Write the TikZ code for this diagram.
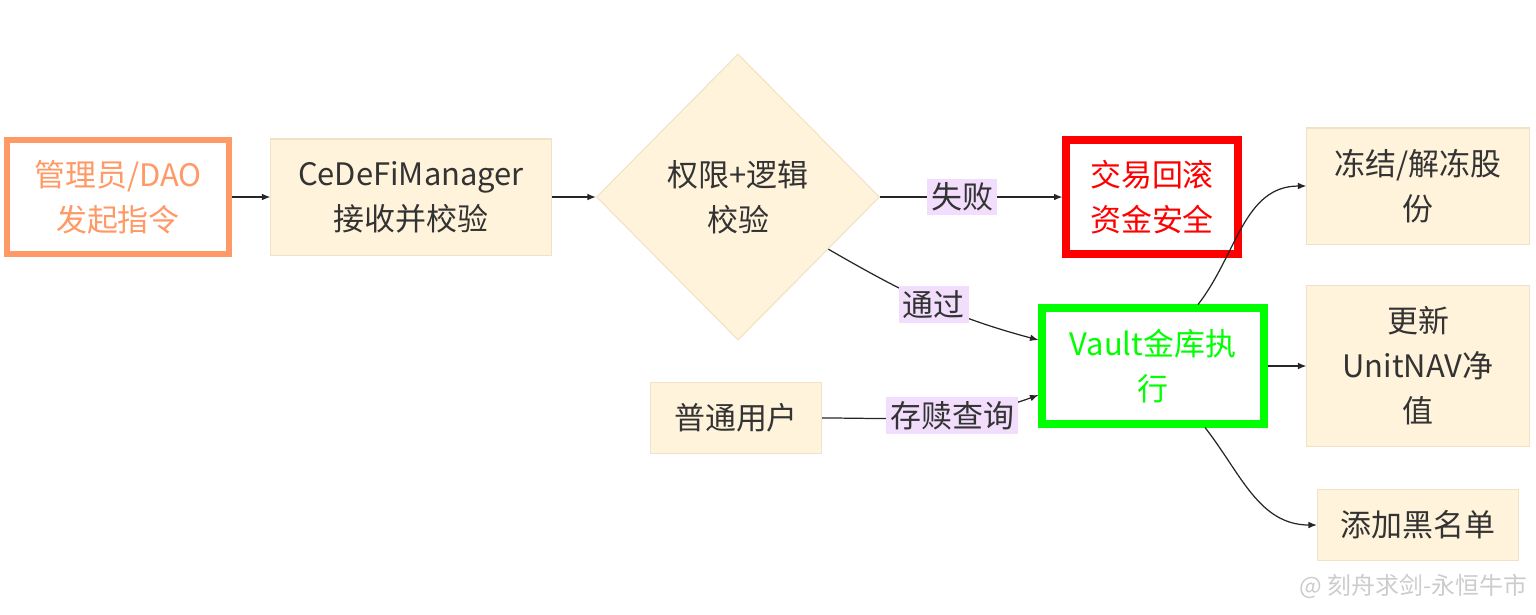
\documentclass[tikz,border=0pt]{standalone}
\usepackage{fontspec}
\setmainfont{Noto Sans CJK SC}
\usepackage{tikz}
\usetikzlibrary{arrows.meta,positioning,shapes.geometric}
\definecolor{boxcream}{RGB}{255,243,220}
\definecolor{boxedge}{RGB}{242,226,196}
\definecolor{adminorange}{RGB}{255,153,102}
\definecolor{failred}{RGB}{255,0,0}
\definecolor{passgreen}{RGB}{0,255,0}
\definecolor{lblpurple}{RGB}{242,222,252}
\definecolor{txtdark}{RGB}{51,51,51}

\begin{document}
\begin{tikzpicture}[x=0.01cm,y=0.01cm,
  every node/.style={font=\fontsize{8.8}{12.8}\selectfont,text=txtdark,align=center,inner sep=0pt},
  box/.style={draw=boxedge,fill=boxcream,line width=0.3pt},
  hotbox/.style={fill=white,line width=0.08cm},
  link/.style={draw=black!85,line width=0.35pt,-{Latex[length=2.4pt,width=1.9pt]}},
  lbl/.style={fill=lblpurple,inner sep=1.2pt}]
\useasboundingbox (0,0) rectangle (1536,-614);
% nodes
\node[hotbox,draw=adminorange,line width=0.06cm,text=adminorange,minimum width=2.22cm,minimum height=1.14cm] (admin) at (118,-197) {管理员/DAO\\发起指令};
\node[box,minimum width=2.80cm,minimum height=1.16cm] (mgr) at (411,-197) {CeDeFiManager\\接收并校验};
\node[box,diamond,minimum width=2.83cm,minimum height=2.86cm] (chk) at (738,-197) {权限+逻辑\\校验};
\node[hotbox,draw=failred,text=failred,minimum width=1.71cm,minimum height=1.13cm] (rollback) at (1152,-197) {交易回滚\\资金安全};
\node[hotbox,draw=passgreen,text=passgreen,minimum width=2.21cm,minimum height=1.15cm] (vault) at (1153,-366) {Vault金库执\\行};
\node[box,minimum width=1.71cm,minimum height=0.71cm] (user) at (736,-418) {普通用户};
\node[box,minimum width=2.22cm,minimum height=1.16cm] (freeze) at (1418,-186) {冻结/解冻股\\份};
\node[box,minimum width=2.22cm,minimum height=1.61cm] (nav) at (1418,-366) {更新\\UnitNAV净\\值};
\node[box,minimum width=2.01cm,minimum height=0.71cm] (black) at (1418,-525) {添加黑名单};
\node[text=black!20,font=\fontsize{6.8}{7}\selectfont,anchor=east] (wm) at (1528,-586) {@ 刻舟求剑-永恒牛市};
% connectors
\draw[link] (admin) -- (mgr);
\draw[link] (mgr) -- (chk);
\draw[link] (chk) -- node[lbl,pos=0.45] {失败} (rollback);
\draw[link] (chk.-30) to[out=-30,in=165] node[lbl,pos=0.52] {通过} ([yshift=0.26cm]vault.west);
\draw[link] (user) to[out=0,in=200] node[lbl,pos=0.6] {存赎查询} ([yshift=-0.29cm]vault.west);
\draw[link] ([xshift=0.45cm]vault.north) to[out=52,in=180] (freeze.west);
\draw[link] (vault) -- (nav);
\draw[link] ([xshift=0.52cm]vault.south) to[out=-52,in=180] (black.west);
\end{tikzpicture}
\end{document}
